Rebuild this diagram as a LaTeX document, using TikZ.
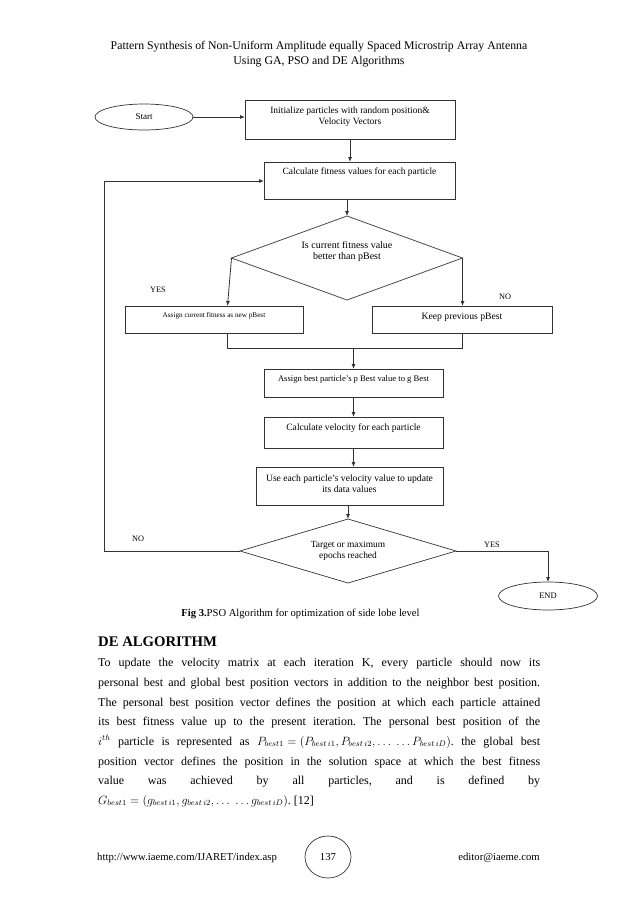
\documentclass[tikz,border=0pt]{standalone}
\usepackage{fontspec}
\setmainfont{Liberation Serif}
\usetikzlibrary{arrows.meta,shapes.geometric}
\newcommand{\fsz}[2]{\fontsize{#1pt}{#2pt}\selectfont}
\newcommand{\jline}[1]{\makebox[442pt][s]{#1}}
\frenchspacing
\begin{document}
\begin{tikzpicture}[x=1pt,y=-1pt,
  box/.style={draw=black!80, line width=0.7pt, inner sep=0pt, outer sep=0pt},
  lbl/.style={align=center, font=\fsz{9.5}{11}, inner sep=0pt},
  small/.style={font=\fsz{8.3}{9}, inner sep=0pt},
  arr/.style={draw=black!80, line width=0.8pt, -{Latex[length=5pt,width=4pt]}},
  ln/.style={draw=black!80, line width=0.8pt},
  para/.style={font=\fsz{12}{14}, inner sep=0pt, anchor=base west}]
\fill[white] (0,0) rectangle (638,902);
\useasboundingbox (0,0) rectangle (638,902);

% header
\node[align=center, font=\fsz{11.8}{15}, inner sep=0pt] (title) at (319,54.5)
  {Pattern Synthesis of Non-Uniform Amplitude equally Spaced Microstrip Array Antenna\\Using GA, PSO and DE Algorithms};

% flowchart nodes
\node[box, ellipse, minimum width=98pt, minimum height=26pt, font=\fsz{9}{11}] (start) at (144,117) {Start};
\node[box, minimum width=210pt, minimum height=39pt,
  label={[lbl, yshift=3pt]center:Initialize particles with random position\&\\Velocity Vectors}] (init) at (350,119.5) {};
\node[box, minimum width=191pt, minimum height=37pt,
  label={[lbl, yshift=8.5pt]center:Calculate fitness values for each particle}] (calc) at (359.5,180.5) {};
\node[box, diamond, minimum width=231pt, minimum height=84pt, aspect=2.75,
  label={[lbl, font=\fsz{10}{11.5}, yshift=6.5pt]center:Is current fitness value\\better than pBest}] (d1) at (347,258) {};
\node[box, minimum width=178pt, minimum height=27pt,
  label={[lbl, font=\fsz{7.2}{9}, yshift=3.5pt]center:Assign current fitness as new pBest}] (a1) at (214,319.5) {};
\node[box, minimum width=180pt, minimum height=27pt,
  label={[lbl, font=\fsz{9.7}{11}, yshift=2.5pt]center:Keep previous pBest}] (a2) at (462,319.5) {};
\node[box, minimum width=179pt, minimum height=28pt,
  label={[lbl, font=\fsz{8.6}{11}, yshift=4pt]center:Assign best particle's p Best value to g Best}] (b1) at (353.5,383) {};
\node[box, minimum width=179pt, minimum height=31pt,
  label={[lbl, font=\fsz{9.6}{11}, yshift=4.5pt]center:Calculate velocity for each particle}] (b2) at (353.5,432.5) {};
\node[box, minimum width=187pt, minimum height=38pt,
  label={[lbl, font=\fsz{9.6}{11}, yshift=2.5pt]center:Use each particle's velocity value to update\\its data values}] (b3) at (349.5,486) {};
\node[box, diamond, minimum width=216pt, minimum height=64pt, aspect=3.4,
  label={[lbl, font=\fsz{9.4}{11}, yshift=0.5pt]center:Target or maximum\\epochs reached}] (d2) at (348,551) {};
\node[box, ellipse, minimum width=99pt, minimum height=28pt, font=\fsz{8.5}{9}] (end) at (548,596) {END};

% branch labels
\node[small] (yes1) at (158,290) {YES};
\node[small] (no1) at (505,297) {NO};
\node[small] (no2) at (138,539) {NO};
\node[small] (yes2) at (492,545) {YES};

% connectors
\draw[arr] (start) -- (init.west |- start);
\draw[arr] (init.south) -- (init.south |- calc.north);
\draw[arr] (calc.south -| d1.north) -- (d1.north);
\draw[arr] (d1.west) -- ([xshift=-4pt]d1.west |- a1.north);
\draw[arr] (d1.east) -- (d1.east |- a2.north);
\coordinate (mleft) at ([xshift=-4pt]d1.west |- a1.south);
\coordinate (mright) at (d1.east |- a2.south);
\draw[ln] (mleft) -- ++(0,15) -| (mright);
\coordinate (mid) at (b1.north |- 0,348);
\draw[arr] (mid) -- (b1.north);
\draw[arr] (b1.south) -- (b2.north);
\draw[arr] (b2.south) -- (b2.south |- b3.north);
\draw[arr] (b3.south -| d2.north) -- (d2.north);
\coordinate (fb) at (104,181);
\draw[arr] (d2.west) -| (fb) -- (fb -| calc.west);
\draw[arr] (d2.east) -| (end.north);

% caption
\node[font=\fsz{10.6}{13}, inner sep=0pt] (cap) at (300.5,614) {\textbf{Fig 3.}PSO Algorithm for optimization of side lobe level};

% text
\node[font=\fsz{14.7}{16}\bfseries, inner sep=0pt, anchor=base west] (head) at (98,646) {DE ALGORITHM};
\node[para] (p1) at (98,666) {\jline{To update the velocity matrix at each iteration K, every particle should now its}};
\node[para] (p2) at (98,686) {\jline{personal best and global best position vectors in addition to the neighbor best position.}};
\node[para] (p3) at (98,706) {\jline{The personal best position vector defines the position at which each particle attained}};
\node[para] (p4) at (98,725.5) {\jline{its best fitness value up to the present iteration. The personal best position of the}};
\node[para] (p5) at (98,745) {\jline{\mbox{$i^{th}$} particle is represented as \mbox{$P_{best1}=(P_{best\,i1},P_{best\,i2},\dots\;\dots P_{best\,iD})$}. the global best}};
\node[para] (p6) at (98,765) {\jline{position vector defines the position in the solution space at which the best fitness}};
\node[para] (p7) at (98,784.5) {\jline{value was achieved by all particles, and is defined by}};
\node[para] (p8) at (98,804) {\mbox{$G_{best1}=(g_{best\,i1},g_{best\,i2},\dots\;\dots g_{best\,iD})$}. [12]};

% footer
\node[font=\fsz{10.7}{13}, inner sep=0pt, anchor=west] (url) at (97,858) {http://www.iaeme.com/IJARET/index.asp};
\node[box, ellipse, minimum width=46pt, minimum height=42pt, font=\fsz{10.7}{13}] (pg) at (328,857) {137};
\node[font=\fsz{10.7}{13}, inner sep=0pt, anchor=east] (mail) at (540,858) {editor@iaeme.com};
\end{tikzpicture}
\end{document}
